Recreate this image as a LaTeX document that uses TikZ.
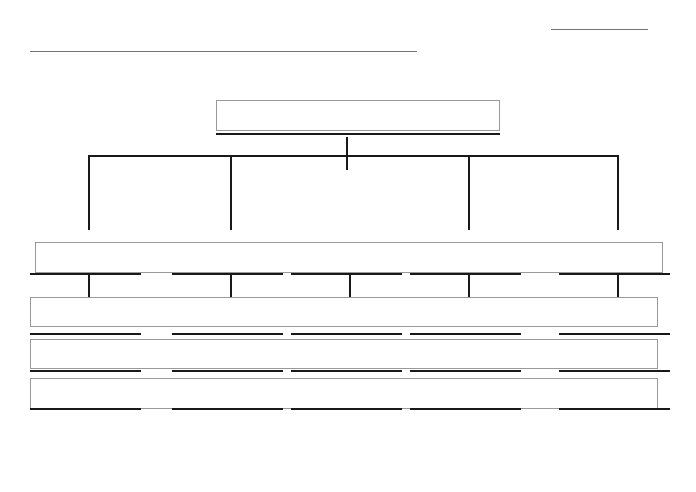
\documentclass[tikz,border=0pt]{standalone}
\begin{document}
\begin{tikzpicture}[x=1pt,y=-1pt,
  boxstyle/.style={draw=black!40,line width=0.9pt,inner sep=0pt,anchor=north west},
  heavy/.style={draw=black!90,line width=1.8pt},
  thinrule/.style={draw=black!55,line width=1.1pt}]
\useasboundingbox[fill=white] (0,0) rectangle (696,492);
% header rules
\coordinate (h1a) at (30,51.5); \coordinate (h1b) at (417,51.5);
\coordinate (h2a) at (551,29.5); \coordinate (h2b) at (648,29.5);
\draw[thinrule] (h1a) -- (h1b);
\draw[thinrule] (h2a) -- (h2b);
% top box
\node[boxstyle,minimum width=283pt,minimum height=30pt] (top) at (216,100.5) {};
\draw[heavy] ([yshift=-3pt]top.south west) -- ([yshift=-3pt]top.south east);
\coordinate (tk1) at (347.3,137); \coordinate (tk2) at (347.3,170);
\draw[heavy] (tk1) -- (tk2);
% branch bar
\coordinate (b1) at (89,156); \coordinate (b2) at (231,156);
\coordinate (b4) at (469,156); \coordinate (b5) at (618,156);
\coordinate (e1) at (89,230); \coordinate (e2) at (231,230);
\coordinate (e4) at (469,230); \coordinate (e5) at (618,230);
\node[boxstyle,minimum width=627.5pt,minimum height=29.5pt] (wide) at (34.7,242) {};
\draw[heavy] (e1) -- (b1) -- (b5) -- (e5);
\draw[heavy] (b2) -- (e2);
\draw[heavy] (b4) -- (e4);
% rows
\node[boxstyle,minimum width=627.5pt,minimum height=29pt] (r1) at (29.7,297.3) {};
\node[boxstyle,minimum width=627.5pt,minimum height=29pt] (r2) at (29.7,339) {};
\node[boxstyle,minimum width=627.5pt,minimum height=30pt] (r3) at (29.7,378) {};
% segment rules
\foreach \y in {274.3,334.3,371.3,408.7}{
  \foreach \a/\b in {29.7/141.3,171.7/283,291/402,410/521,559/670}{
    \draw[heavy] (\a,\y) -- (\b,\y);
  }
}
% connectors from wide box rules to row 1
\foreach \x [count=\i] in {89,231,350,469,618}{
  \coordinate (c\i a) at (\x,274.3);
  \coordinate (c\i b) at (\x,297.3);
  \draw[heavy] (c\i a) -- (c\i b);
}
\end{tikzpicture}
\end{document}
